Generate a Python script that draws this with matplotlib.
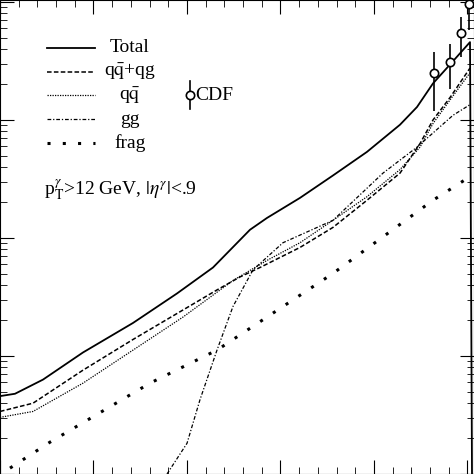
import numpy as np
import matplotlib
matplotlib.use("Agg")
import matplotlib.pyplot as plt
from matplotlib.ticker import LogLocator, MultipleLocator, NullFormatter

plt.rcParams['font.family'] = ['Liberation Serif', 'DejaVu Serif']
plt.rcParams['mathtext.fontset'] = 'stix'

# x in arbitrary units (0..474), y as log10 of cross section
total_x = [0, 15, 43, 83, 133, 177, 213, 250, 267, 300, 333, 367, 400, 417, 433, 450, 470, 472]
total_ly = [0.66, 0.68, 0.80, 1.03, 1.28, 1.53, 1.75, 2.07, 2.17, 2.34, 2.53, 2.73, 2.96, 3.11, 3.31, 3.47, 3.66, 0.0]
qqg_x = [0, 33, 83, 133, 183, 217, 240, 260, 300, 333, 367, 400, 420, 433, 450, 470]
qqg_ly = [0.53, 0.60, 0.88, 1.14, 1.39, 1.56, 1.67, 1.75, 1.92, 2.09, 2.32, 2.55, 2.80, 3.00, 3.19, 3.44]
qq_x = [0, 33, 83, 133, 183, 233, 267, 300, 333, 367, 400, 420, 433, 450, 470]
qq_ly = [0.48, 0.53, 0.77, 1.05, 1.33, 1.64, 1.81, 1.96, 2.15, 2.35, 2.58, 2.77, 2.97, 3.17, 3.40]
gg_x = [167, 187, 200, 217, 233, 253, 283, 333, 383, 417, 433, 453, 470]
gg_ly = [0.0, 0.26, 0.63, 1.05, 1.42, 1.73, 1.96, 2.15, 2.55, 2.77, 2.89, 3.04, 3.13]
frag_x = [10, 50, 100, 150, 217, 267, 333, 383, 433, 470]
frag_ly = [0.05, 0.27, 0.52, 0.77, 1.05, 1.33, 1.70, 2.01, 2.32, 2.52]
cdf_x = [434, 450, 461, 469]
cdf_ly = [3.40, 3.49, 3.74, 3.98]
cdf_lo = [3.08, 3.26, 3.53, 3.76]
cdf_hi = [3.58, 3.64, 3.87, 4.02]

labels = ['Total', r'q$\bar{\rm q}$+qg', r'q$\bar{\rm q}$', 'gg', 'frag']
styles = [dict(ls='-', lw=1.3), dict(ls=(0, (3, 1.5)), lw=1.1), dict(ls=(0, (1, 1)), lw=0.9),
          dict(ls=(0, (3, 1.5, 1, 1.5)), lw=0.9), dict(ls=(0, (1, 4)), lw=2.2)]

def y(v):
    return 10 ** np.array(v)

fig = plt.figure(figsize=(4.74, 4.74), dpi=100)
ax = fig.add_axes([0, 0, 1, 1])
ax.set_yscale('log')
for xs, ys, st in zip([total_x, qqg_x, qq_x, gg_x, frag_x],
                      [total_ly, qqg_ly, qq_ly, gg_ly, frag_ly], styles):
    ax.plot(xs, y(ys), color='k', **st)
cy = y(cdf_ly)
ax.errorbar(cdf_x, cy, yerr=[cy - y(cdf_lo), y(cdf_hi) - cy], fmt='o', mfc='white',
            mec='black', ecolor='black', ms=6, mew=1.2, elinewidth=1.2, zorder=5)
ax.set_xlim(0, 474)
ax.set_ylim(1, 10 ** (474 / 118))
ax.xaxis.set_minor_locator(MultipleLocator(18.7))
ax.xaxis.set_major_locator(MultipleLocator(93.5))
ax.yaxis.set_major_locator(LogLocator(base=10, numticks=10))
ax.yaxis.set_minor_locator(LogLocator(base=10, subs=np.arange(2, 10), numticks=50))
ax.tick_params(which='both', direction='in', top=True, right=True,
               labelbottom=False, labelleft=False)
ax.tick_params(which='major', length=10)
ax.tick_params(which='minor', length=5)
ax.yaxis.set_minor_formatter(NullFormatter())

# manual legend (axes fraction coordinates)
T = ax.transAxes
for i, (lab, st) in enumerate(zip(labels, styles)):
    yy = 1 - (48 + 23.7 * i) / 474
    ax.plot([47 / 474, 95 / 474], [yy, yy], color='k', transform=T, **st)
    ax.text(130 / 474, yy, lab, transform=T, fontsize=14, ha='center', va='center')
cy0 = 1 - 95 / 474
ax.plot([190 / 474, 190 / 474], [cy0 - 0.03, cy0 + 0.03], color='k', lw=1.2, transform=T)
ax.plot([190 / 474], [cy0], 'o', mfc='white', mec='k', ms=6, mew=1.2, transform=T)
ax.text(195 / 474, cy0, 'CDF', transform=T, fontsize=14, va='center')
ax.text(44 / 474, 1 - 190 / 474, r'p$_{\rm T}^{\gamma}$>12 GeV, $|\eta^{\gamma}|$<.9',
        transform=T, fontsize=14, va='center')
fig.savefig('out.png', dpi=100)
